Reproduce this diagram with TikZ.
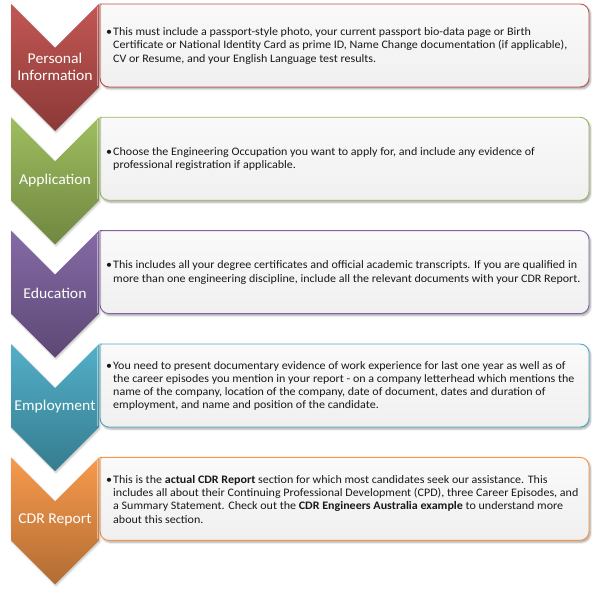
\documentclass[tikz,border=0pt]{standalone}
\usepackage{fontspec}
\setmainfont{Carlito}
\newfontfamily\stepfont{Carlito}[FakeStretch=1.05]
\usetikzlibrary{shadows.blur}
\definecolor{StepRed}{RGB}{192,80,77}
\definecolor{StepGreen}{RGB}{155,187,89}
\definecolor{StepPurple}{RGB}{128,100,162}
\definecolor{StepAqua}{RGB}{75,172,198}
\definecolor{StepOrange}{RGB}{247,150,70}
\tikzset{
  stepshape/.style={draw=none,top color=#1!96!white,bottom color=#1!72!black,
    blur shadow={shadow xshift=1pt,shadow yshift=-1.5pt,
      shadow blur steps=4,shadow opacity=25}},
  bevel/.style={draw=white,opacity=.45,line width=1.2pt},
  infobox/.style={draw=#1,line width=0.9pt,top color=black!2,bottom color=black!6,
    blur shadow={shadow xshift=1.5pt,shadow yshift=-2pt,
      shadow blur steps=5,shadow opacity=35}},
  steplabel/.style={text=white,align=center,inner sep=0pt,
    font=\stepfont\fontsize{15}{17}\selectfont},
  infotext/.style={anchor=west,align=left,inner sep=0pt,text=black!90,
    font=\stepfont\fontsize{11.5}{13.3}\selectfont},
}
\newcommand{\bul}{\llap{\textbullet\hspace{1.2pt}}}

\begin{document}
\begin{tikzpicture}[x=1bp,y=-1bp]
  \useasboundingbox (0,0) rectangle (596,595);

  % Personal Information
  \begin{scope}[shift={(0,4)}]
    \path[infobox=StepRed] (100,0) [rounded corners=9] -- (589,0) -- (589,83)
      -- (100,83) [sharp corners] -- cycle;
    \path[stepshape=StepRed] (11,0) -- (55,44) -- (99,0) -- (99,83) -- (55,127)
      -- (11,83) -- cycle;
    \draw[bevel] (97.5,3) -- (97.5,82);
    \node[steplabel] (personal) at (55,63) {Personal\\Information};
    \node[infotext] (personaltxt) at (113,42) {\bul This must include a passport-style photo, your current passport bio-data page or Birth\\
      Certificate or National Identity Card as prime ID, Name Change documentation (if applicable),\\
      CV or Resume, and your English Language test results.};
  \end{scope}

  % Application
  \begin{scope}[shift={(0,117.3)}]
    \path[infobox=StepGreen] (100,0) [rounded corners=9] -- (589,0) -- (589,83)
      -- (100,83) [sharp corners] -- cycle;
    \path[stepshape=StepGreen] (11,0) -- (55,44) -- (99,0) -- (99,83) -- (55,127)
      -- (11,83) -- cycle;
    \draw[bevel] (97.5,3) -- (97.5,82);
    \node[steplabel] (application) at (55,63) {Application};
    \node[infotext] (applicationtxt) at (113,42) {\bul Choose the Engineering Occupation you want to apply for, and include any evidence of\\
      professional registration if applicable.};
  \end{scope}

  % Education
  \begin{scope}[shift={(0,230.6)}]
    \path[infobox=StepPurple] (100,0) [rounded corners=9] -- (589,0) -- (589,83)
      -- (100,83) [sharp corners] -- cycle;
    \path[stepshape=StepPurple] (11,0) -- (55,44) -- (99,0) -- (99,83) -- (55,127)
      -- (11,83) -- cycle;
    \draw[bevel] (97.5,3) -- (97.5,82);
    \node[steplabel] (education) at (55,63) {Education};
    \node[infotext] (educationtxt) at (113,42) {\bul This includes all your degree certificates and official academic transcripts. If you are qualified in\\
      more than one engineering discipline, include all the relevant documents with your CDR Report.};
  \end{scope}

  % Employment
  \begin{scope}[shift={(0,344)}]
    \path[infobox=StepAqua] (100,0) [rounded corners=9] -- (589,0) -- (589,83)
      -- (100,83) [sharp corners] -- cycle;
    \path[stepshape=StepAqua] (11,0) -- (55,44) -- (99,0) -- (99,83) -- (55,127)
      -- (11,83) -- cycle;
    \draw[bevel] (97.5,3) -- (97.5,82);
    \node[steplabel] (employment) at (55,63) {Employment};
    \node[infotext] (employmenttxt) at (113,42) {\bul You need to present documentary evidence of work experience for last one year as well as of\\
      the career episodes you mention in your report - on a company letterhead which mentions the\\
      name of the company, location of the company, date of document, dates and duration of\\
      employment, and name and position of the candidate.};
  \end{scope}

  % CDR Report
  \begin{scope}[shift={(0,457.3)}]
    \path[infobox=StepOrange] (100,0) [rounded corners=9] -- (589,0) -- (589,83)
      -- (100,83) [sharp corners] -- cycle;
    \path[stepshape=StepOrange] (11,0) -- (55,44) -- (99,0) -- (99,83) -- (55,127)
      -- (11,83) -- cycle;
    \draw[bevel] (97.5,3) -- (97.5,82);
    \node[steplabel] (cdrreport) at (55,63) {CDR Report};
    \node[infotext] (cdrreporttxt) at (113,42) {\bul This is the \textbf{actual CDR Report} section for which most candidates seek our assistance. This\\
      includes all about their Continuing Professional Development (CPD), three Career Episodes, and\\
      a Summary Statement. Check out the \textbf{CDR Engineers Australia example} to understand more\\
      about this section.};
  \end{scope}
\end{tikzpicture}
\end{document}
